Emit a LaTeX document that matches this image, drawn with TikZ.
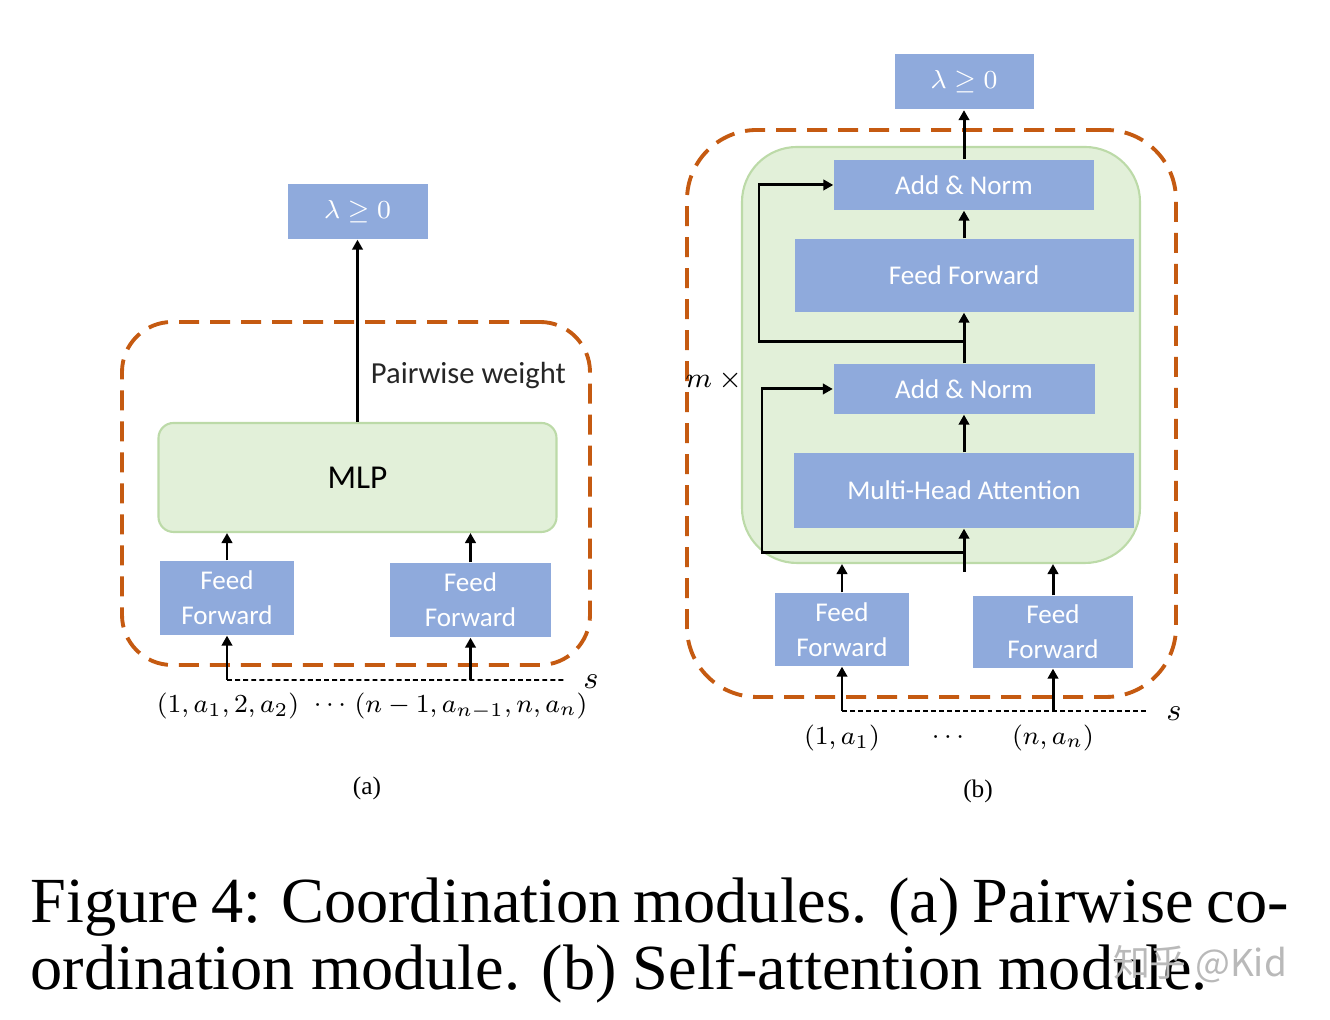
\documentclass[tikz,border=0pt]{standalone}
\usepackage{graphicx}
\usepackage{fontspec}
\setmainfont{Liberation Serif}
\setsansfont{Carlito}
\newfontfamily\cjkfont{Noto Sans CJK SC}
\usetikzlibrary{arrows.meta,positioning}
\definecolor{boxblue}{HTML}{8FAADC}
\definecolor{greenfill}{HTML}{E2F0D9}
\definecolor{greenline}{HTML}{BCDAA8}
\definecolor{modorange}{HTML}{C55A11}
\newcommand{\mlab}[1]{\scalebox{0.925}{$#1$}}
\begin{document}
\begin{tikzpicture}[auto, node distance=1cm, >={Triangle[length=1mm,width=1.05mm]}]

% Styles
\tikzstyle{block}  = [rectangle, fill=boxblue, text=white, inner sep=0pt, font=\sffamily\fontsize{7.7}{10}\selectfont]
\tikzstyle{outbox} = [block, minimum width=1.4cm, minimum height=0.55cm, font=\fontsize{8}{10}\selectfont]
\tikzstyle{ffbox}  = [block, align=center, minimum height=0.74cm]
\tikzstyle{mlpbox} = [draw=greenline, fill=greenfill, line width=0.6pt]
\tikzstyle{module} = [draw=modorange, line width=1.1pt, dash pattern=on 0.2cm off 0.11cm]
\tikzstyle{input}  = [coordinate]
\tikzstyle{line}   = [draw, ->, line width=0.85pt]
\tikzstyle{seq}    = [draw, line width=0.45pt, dash pattern=on 1.4pt off 0.9pt]
\tikzstyle{lbl}    = [inner sep=0pt, font=\fontsize{8}{10}\selectfont]
\tikzstyle{sub}    = [inner sep=0pt, font=\fontsize{7.2}{9}\selectfont]

\useasboundingbox (0,0) rectangle (13.3,10.2);

% (a) Pairwise module
\node [module, rounded corners=0.5cm, minimum width=4.68cm, minimum height=3.43cm] (pwmod) at (3.56,5.265) {};
\node [mlpbox, rounded corners=0.15cm, minimum width=3.98cm, minimum height=1.09cm, font=\sffamily\fontsize{9.5}{11}\selectfont] (mlp) at (3.575,5.425) {MLP};
\node [outbox, above of=mlp, node distance=2.66cm] (lama) {\mlab{\lambda\geq 0}};
\node [ffbox, minimum width=1.34cm] (ffa1) at (2.27,4.22) {Feed\\Forward};
\node [ffbox, minimum width=1.61cm] (ffa2) at (4.705,4.20) {Feed\\Forward};
\node [input, below of=ffa1, node distance=0.82cm] (ina1) {};
\node [input, below of=ffa2, node distance=0.80cm] (ina2) {};
\node [input] (enda) at (5.65,3.40) {};

\draw [line] (mlp) -- node [inner sep=0pt, right=0.12cm, pos=0.255, font=\sffamily\fontsize{8.7}{10}\selectfont, text=black!85] {Pairwise weight} (lama);
\draw [line] (ffa1) -- (ffa1 |- mlp.south);
\draw [line] (ffa2) -- (ffa2 |- mlp.south);
\draw [seq] (ina1) -- (enda);
\draw [line] (ina1) -- (ffa1);
\draw [line] (ina2) -- (ffa2);

\node [lbl, font=\fontsize{9}{10}\selectfont] (sa) at (5.91,3.38) {$s$};
\node [lbl] (xa1) at (2.28,3.14) {\mlab{(1,a_1,2,a_2)}};
\node [lbl] (dota) at (3.30,3.14) {\mlab{\cdots}};
\node [lbl] (xa2) at (4.71,3.14) {\mlab{(n-1,a_{n-1},n,a_n)}};
\node [sub] (capa) at (3.67,2.32) {(a)};

% (b) Self-attention module
\node [module, rounded corners=0.7cm, minimum width=4.89cm, minimum height=5.67cm] (samod) at (9.315,6.065) {};
\node [mlpbox, rounded corners=0.55cm, minimum width=3.98cm, minimum height=4.16cm] (stack) at (9.41,6.65) {};
\node [block, minimum width=3.40cm, minimum height=0.75cm] (mha) at (9.64,5.295) {Multi-Head Attention};
\node [block, minimum width=2.61cm, minimum height=0.50cm, above of=mha, node distance=1.015cm] (an2) {Add \& Norm};
\node [block, minimum width=3.39cm, minimum height=0.73cm, above of=an2, node distance=1.135cm] (ffb) {Feed Forward};
\node [block, minimum width=2.60cm, minimum height=0.50cm, above of=ffb, node distance=0.905cm] (an1) {Add \& Norm};
\node [outbox, minimum width=1.39cm, above of=an1, node distance=1.03cm] (lamb) {\mlab{\lambda\geq 0}};

\node [ffbox, minimum width=1.34cm, minimum height=0.73cm] (ffb1) at (8.42,3.905) {Feed\\Forward};
\node [ffbox, minimum width=1.60cm, minimum height=0.72cm] (ffb2) at (10.53,3.88) {Feed\\Forward};
\node [input, below of=ffb1, node distance=0.815cm] (inb1) {};
\node [input, below of=ffb2, node distance=0.79cm] (inb2) {};
\node [input] (endb) at (11.48,3.09) {};

% Residual paths
\node [input] (st) at (9.64,4.48) {};
\node [input] (j2) at (9.64,4.67) {};
\node [input] (k2) at (7.62,4.67) {};
\node [input] (j1) at (9.64,6.78) {};
\node [input] (k1) at (7.59,6.78) {};

\draw [line] (st) -- (mha);
\draw [line] (mha) -- (an2);
\draw [line] (an2) -- (ffb);
\draw [line] (ffb) -- (an1);
\draw [line] (an1) -- (lamb);
\draw [line] (j2) -- (k2) |- (an2);
\draw [line] (j1) -- (k1) |- (an1);
\draw [line] (ffb1) -- (ffb1 |- stack.south);
\draw [line] (ffb2) -- (ffb2 |- stack.south);
\draw [seq] (inb1) -- (endb);
\draw [line] (inb1) -- (ffb1);
\draw [line] (inb2) -- (ffb2);

\node [lbl] (rep) at (7.17,6.40) {$m\times{}$};
\node [lbl, font=\fontsize{9}{10}\selectfont] (sb) at (11.74,3.06) {$s$};
\node [lbl] (xb1) at (8.42,2.82) {\mlab{(1,a_1)}};
\node [lbl] (dotb) at (9.48,2.82) {\mlab{\cdots}};
\node [lbl] (xb2) at (10.53,2.82) {\mlab{(n,a_n)}};
\node [sub] (capb) at (9.78,2.29) {(b)};

% Caption
\node [anchor=base west, inner sep=0pt, font=\fontsize{18.3}{22}\selectfont] (cap1) at (0.30,0.97) {\makebox[12.58cm][s]{Figure 4: Coordination modules. (a) Pairwise co-}};
\node [anchor=base west, inner sep=0pt, font=\fontsize{18.3}{22}\selectfont] (cap2) at (0.30,0.30) {ordination module. (b) Self-attention module.};
\node [text=gray!55, inner sep=0pt, font=\cjkfont\fontsize{10.5}{12}\selectfont] (mark) at (12.0,0.56) {知乎 @Kid};

\end{tikzpicture}
\end{document}
